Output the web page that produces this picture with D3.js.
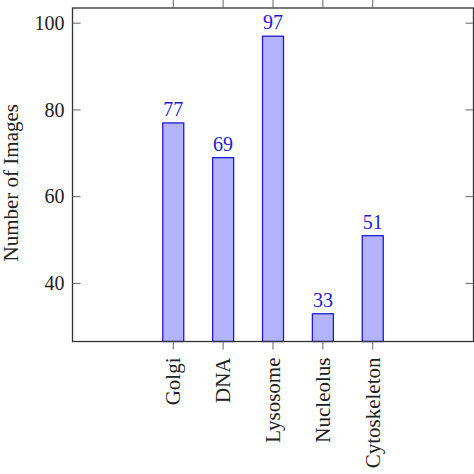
<!DOCTYPE html>
<html>
<head>
<meta charset="utf-8">
<script src="https://cdn.jsdelivr.net/npm/d3@7"></script>
<style>
  body { margin: 0; background: #fff; }
  svg text { font-family: "Liberation Serif", "DejaVu Serif", serif; }
</style>
</head>
<body>
<svg id="chart" width="474" height="474"></svg>
<script>
const categories = ["Golgi", "DNA", "Lysosome", "Nucleolus", "Cytoskeleton"];
const counts = [77, 69, 97, 33, 51];
const yTicks = [40, 60, 80, 100];

const svg = d3.select("#chart");
const margin = { top: 8, right: 0.5, bottom: 132.5, left: 72.5 };
const width = 474 - margin.left - margin.right;
const height = 474 - margin.top - margin.bottom;

// categories sit at 0..4, with two empty slots either side
const x = d3.scaleLinear()
  .domain([-2.02, 6.02])
  .range([margin.left, margin.left + width]);

const y = d3.scaleLinear()
  .domain([26.6, 103.5])
  .range([margin.top + height, margin.top]);

const idx = categories.map((d, i) => i);
const barW = 21;
const blue = "#1c1cd4";

// bars
svg.selectAll(".bar")
  .data(counts)
  .enter().append("rect")
  .attr("class", "bar")
  .attr("x", (d, i) => x(i) - barW / 2)
  .attr("y", d => y(d))
  .attr("width", barW)
  .attr("height", d => y.range()[0] - y(d))
  .attr("fill", "#b3b3ff")
  .attr("stroke", blue)
  .attr("stroke-width", 1.3);

// value labels
svg.selectAll(".val")
  .data(counts)
  .enter().append("text")
  .attr("class", "val")
  .attr("x", (d, i) => x(i))
  .attr("y", d => y(d) - 7)
  .attr("text-anchor", "middle")
  .attr("fill", blue)
  .attr("font-size", 20)
  .text(d => d);

// frame
svg.append("rect")
  .attr("x", margin.left)
  .attr("y", margin.top)
  .attr("width", width)
  .attr("height", height)
  .attr("fill", "none")
  .attr("stroke", "#333")
  .attr("stroke-width", 1.3);

// x ticks, outward at bottom and top
const xTickG = svg.append("g").attr("stroke", "#666").attr("stroke-width", 1);
xTickG.selectAll(".xb").data(idx).enter().append("line")
  .attr("x1", d => x(d)).attr("x2", d => x(d))
  .attr("y1", margin.top + height).attr("y2", margin.top + height + 8);
xTickG.selectAll(".xt").data(idx).enter().append("line")
  .attr("x1", d => x(d)).attr("x2", d => x(d))
  .attr("y1", margin.top).attr("y2", margin.top - 9);

// y ticks, inward on both sides
const yTickG = svg.append("g").attr("stroke", "#666").attr("stroke-width", 1);
yTickG.selectAll(".yl").data(yTicks).enter().append("line")
  .attr("x1", margin.left).attr("x2", margin.left + 8)
  .attr("y1", d => y(d)).attr("y2", d => y(d));
yTickG.selectAll(".yr").data(yTicks).enter().append("line")
  .attr("x1", margin.left + width).attr("x2", margin.left + width - 8)
  .attr("y1", d => y(d)).attr("y2", d => y(d));

// y tick labels
svg.selectAll(".ylab")
  .data(yTicks)
  .enter().append("text")
  .attr("x", margin.left - 8)
  .attr("y", d => y(d))
  .attr("dy", "0.34em")
  .attr("text-anchor", "end")
  .attr("font-size", 20)
  .attr("fill", "#222")
  .text(d => d);

// category labels, rotated
svg.selectAll(".xlab")
  .data(categories)
  .enter().append("text")
  .attr("transform", (d, i) => `translate(${x(i) + 7},${margin.top + height + 16}) rotate(-90)`)
  .attr("text-anchor", "end")
  .attr("font-size", 21)
  .attr("fill", "#222")
  .text(d => d);

// y axis title
svg.append("text")
  .attr("transform", `translate(18,${margin.top + height / 2 + 8}) rotate(-90)`)
  .attr("text-anchor", "middle")
  .attr("font-size", 21)
  .attr("fill", "#222")
  .text("Number of Images");
</script>
</body>
</html>
